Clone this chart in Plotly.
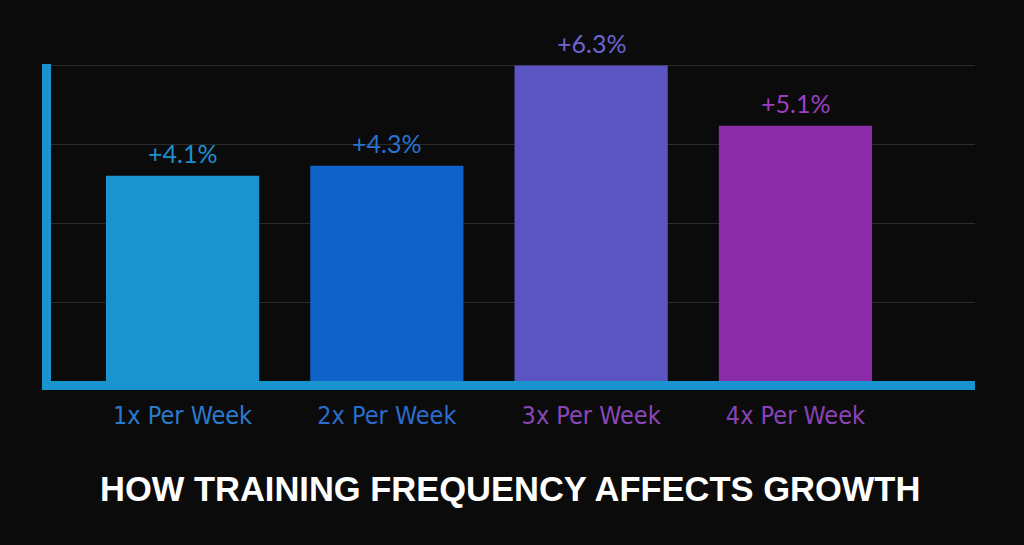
import plotly.graph_objects as go

categories = ['1x Per Week', '2x Per Week', '3x Per Week', '4x Per Week']
growth = [4.1, 4.3, 6.3, 5.1]
value_labels = ['+4.1%', '+4.3%', '+6.3%', '+5.1%']
bar_colors = ['#1a94cf', '#0f63c8', '#5a55c3', '#8b2ba8']
label_colors = ['#2a7bcb', '#2a6dcc', '#8a47b8', '#8a42b8']
value_colors = ['#1c90cf', '#2a72d0', '#6c64d0', '#9b3fc2']
title = 'HOW TRAINING FREQUENCY AFFECTS GROWTH'

BG = '#0b0b0b'
AXIS = '#1a94cf'

fig = go.Figure()
fig.add_trace(go.Bar(
    x=categories, y=growth,
    width=0.75,
    marker=dict(color=bar_colors, line=dict(width=0)),
    hoverinfo='skip',
    showlegend=False,
    ))

# value labels above each bar
for cat, val, txt, col in zip(categories, growth, value_labels, value_colors):
    fig.add_annotation(
        x=cat, y=val, text=txt, showarrow=False,
        yanchor='bottom', yshift=6,
        font=dict(family='Lato, Open Sans, sans-serif', size=25, color=col),
        )

ymax = max(growth)
fig.update_layout(
    width=1024, height=545,
    paper_bgcolor=BG, plot_bgcolor=BG,
    margin=dict(l=51, r=49, t=64, b=164),
    bargap=0.25,
    xaxis=dict(
        range=[-0.644, 3.879],
        tickvals=categories,
        ticktext=[f"<span style='color:{c}'>{t}</span>" for t, c in zip(categories, label_colors)],
        tickfont=dict(family='DejaVu Sans Condensed, Liberation Sans Narrow, sans-serif', size=25),
        ticks='', ticklen=0,
        showline=True, linewidth=9, linecolor=AXIS,
        showgrid=False, zeroline=False,
        fixedrange=True,
        ),
    yaxis=dict(
        range=[0, ymax * 1.005],
        tickvals=[ymax * k / 4 for k in range(1, 5)],
        showticklabels=False,
        showgrid=True, gridcolor='#2b2b2b', gridwidth=1,
        showline=True, linewidth=9, linecolor=AXIS,
        zeroline=False, fixedrange=True,
        ),
    annotations=list(fig.layout.annotations) + [dict(
        text=f'<b>{title}</b>', xref='paper', yref='paper',
        x=0.5, xanchor='center', y=-0.34, yanchor='middle',
        xshift=-3,
        showarrow=False,
        font=dict(family='Liberation Sans, Arial, sans-serif', size=34.5, color='#ffffff'),
        )],
    )
fig.update_xaxes(ticklabelstandoff=4)

fig.write_html('out.html', config={'displayModeBar': False},
               post_script="document.body.style.margin='0';document.body.style.background='#0b0b0b';")
